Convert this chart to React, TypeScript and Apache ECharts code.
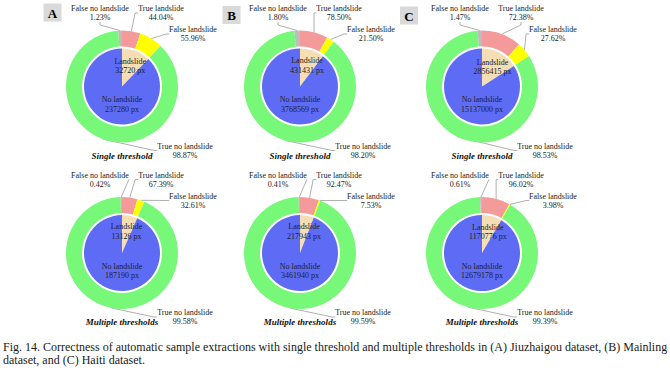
import React, { useEffect, useRef } from "react";
import * as echarts from "echarts";

// ---------- data ----------
const panelLetters = ["A", "B", "C"];
const rowTitles = ["Single threshold", "Multiple thresholds"];
const innerCategories = ["Landslide", "No landslide"];
const outerCategories = ["True landslide", "False landslide", "True no landslide", "False no landslide"];

// Single threshold (A, B, C)
const singleLandslidePx = [32720, 431431, 2856415];
const singleNoLandslidePx = [237280, 3768569, 15137000];
const singleTrueLandslidePct = [44.04, 78.5, 72.38];
const singleFalseLandslidePct = [55.96, 21.5, 27.62];
const singleTrueNoLandslidePct = [98.87, 98.2, 98.53];
const singleFalseNoLandslidePct = [1.23, 1.8, 1.47];

// Multiple thresholds (A, B, C)
const multiLandslidePx = [13126, 217943, 1170776];
const multiNoLandslidePx = [187190, 3461940, 12679178];
const multiTrueLandslidePct = [67.39, 92.47, 96.02];
const multiFalseLandslidePct = [32.61, 7.53, 3.98];
const multiTrueNoLandslidePct = [99.58, 99.59, 99.39];
const multiFalseNoLandslidePct = [0.42, 0.41, 0.61];

const captionText =
  "Fig. 14. Correctness of automatic sample extractions with single threshold and multiple thresholds in (A) Jiuzhaigou dataset, (B) Mainling\ndataset, and (C) Haiti dataset.";

// ---------- styling / layout ----------
const innerColors = ["#F5DEB3", "#5E6CF5"];
const outerColors = ["#F59A9A", "#FFFF00", "#78F878", "#BDBDBD"];
const centersX = [122, 300, 482];
const centersY = [86.5, 253];
const FONT = "'Liberation Serif', 'Times New Roman', serif";
// label offsets relative to pie centre for outer ring: TL, FL, TNL, FNL
const outerLabelOffsets = [
  [39, -73.5],
  [71, -52.5],
  [63, 64],
  [-22, -73.5],
];

const rows = [
  {
    landslide: singleLandslidePx,
    noLandslide: singleNoLandslidePx,
    tl: singleTrueLandslidePct,
    fl: singleFalseLandslidePct,
    tnl: singleTrueNoLandslidePct,
    fnl: singleFalseNoLandslidePct,
  },
  {
    landslide: multiLandslidePx,
    noLandslide: multiNoLandslidePx,
    tl: multiTrueLandslidePct,
    fl: multiFalseLandslidePct,
    tnl: multiTrueNoLandslidePct,
    fnl: multiFalseNoLandslidePct,
  },
];

function buildOption() {
  const series: any[] = [];
  const graphics: any[] = [];

  rows.forEach((row, r) => {
    const cy = centersY[r];
    for (let p = 0; p < 3; p++) {
      const cx = centersX[p];
      const L = row.landslide[p];
      const N = row.noLandslide[p];
      const outerPcts = [row.tl[p], row.fl[p], row.tnl[p], row.fnl[p]];
      const outerBase = [L, L, N, N];

      series.push({
        type: "pie",
        silent: true,
        center: [cx, cy],
        radius: [0, 38],
        startAngle: 90,
        clockwise: true,
        avoidLabelOverlap: false,
        itemStyle: { borderWidth: 0 },
        label: {
          show: true,
          position: "inside",
          fontFamily: FONT,
          fontSize: 8,
          lineHeight: 9.5,
          color: "#222",
          formatter: (prm: any) => prm.name + "\n" + prm.value + " px",
        },
        labelLayout: (prm: any) =>
          prm.dataIndex === 1
            ? { x: cx, y: cy + 18, align: "center", verticalAlign: "middle" }
            : {},
        labelLine: { show: false },
        data: innerCategories.map((name, i) => ({
          name,
          value: i === 0 ? L : N,
          itemStyle: { color: innerColors[i] },
        })),
      });

      series.push({
        type: "pie",
        silent: true,
        center: [cx, cy],
        radius: [40, 56],
        startAngle: 90,
        clockwise: true,
        avoidLabelOverlap: false,
        itemStyle: { borderWidth: 0 },
        label: {
          show: true,
          position: "outside",
          fontFamily: FONT,
          fontSize: 8,
          lineHeight: 9,
          color: "#222",
          formatter: (prm: any) => prm.name + "\n" + prm.data.pct.toFixed(2) + "%",
        },
        labelLine: {
          show: true,
          length: 4,
          length2: 3,
          lineStyle: { color: "#9a9a9a", width: 0.8 },
        },
        labelLayout: (prm: any) => {
          const off = outerLabelOffsets[prm.dataIndex];
          return { x: cx + off[0], y: cy + off[1], align: "center", verticalAlign: "middle" };
        },
        data: outerCategories.map((name, i) => ({
          name,
          value: (outerBase[i] * outerPcts[i]) / 100,
          pct: outerPcts[i],
          itemStyle: { color: outerColors[i] },
        })),
      });

      graphics.push({
        type: "text",
        x: cx,
        y: cy + 69,
        style: {
          text: rowTitles[r],
          fontFamily: FONT,
          fontSize: 9,
          fontWeight: "bold",
          fontStyle: "italic",
          fill: "#111",
          align: "center",
          verticalAlign: "middle",
        },
      });

      if (r === 0) {
        const bx = [52.5, 231.5, 409][p];
        const by = [12.5, 15, 15.5][p];
        graphics.push({
          type: "rect",
          shape: { x: bx - 9, y: by - 9, width: 18, height: 18 },
          style: { fill: "#D9D9D9" },
        });
        graphics.push({
          type: "text",
          x: bx,
          y: by + 0.5,
          style: {
            text: panelLetters[p],
            fontFamily: FONT,
            fontSize: 13,
            fontWeight: "bold",
            fill: "#000",
            align: "center",
            verticalAlign: "middle",
          },
        });
      }
    }
  });

  graphics.push({
    type: "text",
    x: 3,
    y: 340,
    style: {
      text: captionText,
      fontFamily: FONT,
      fontSize: 12,
      lineHeight: 13,
      fill: "#1a1a1a",
      align: "left",
      verticalAlign: "top",
    },
  });

  return {
    animation: false,
    backgroundColor: "#ffffff",
    series,
    graphic: { elements: graphics },
  };
}

export default function App() {
  const ref = useRef<HTMLDivElement>(null);
  useEffect(() => {
    if (!ref.current) return;
    const chart = echarts.init(ref.current, undefined, { renderer: "svg" });
    chart.setOption(buildOption() as any);
    return () => chart.dispose();
  }, []);
  return (
    <div
      ref={ref}
      style={{ position: "absolute", left: 0, top: 0, width: 670, height: 370 }}
    />
  );
}
